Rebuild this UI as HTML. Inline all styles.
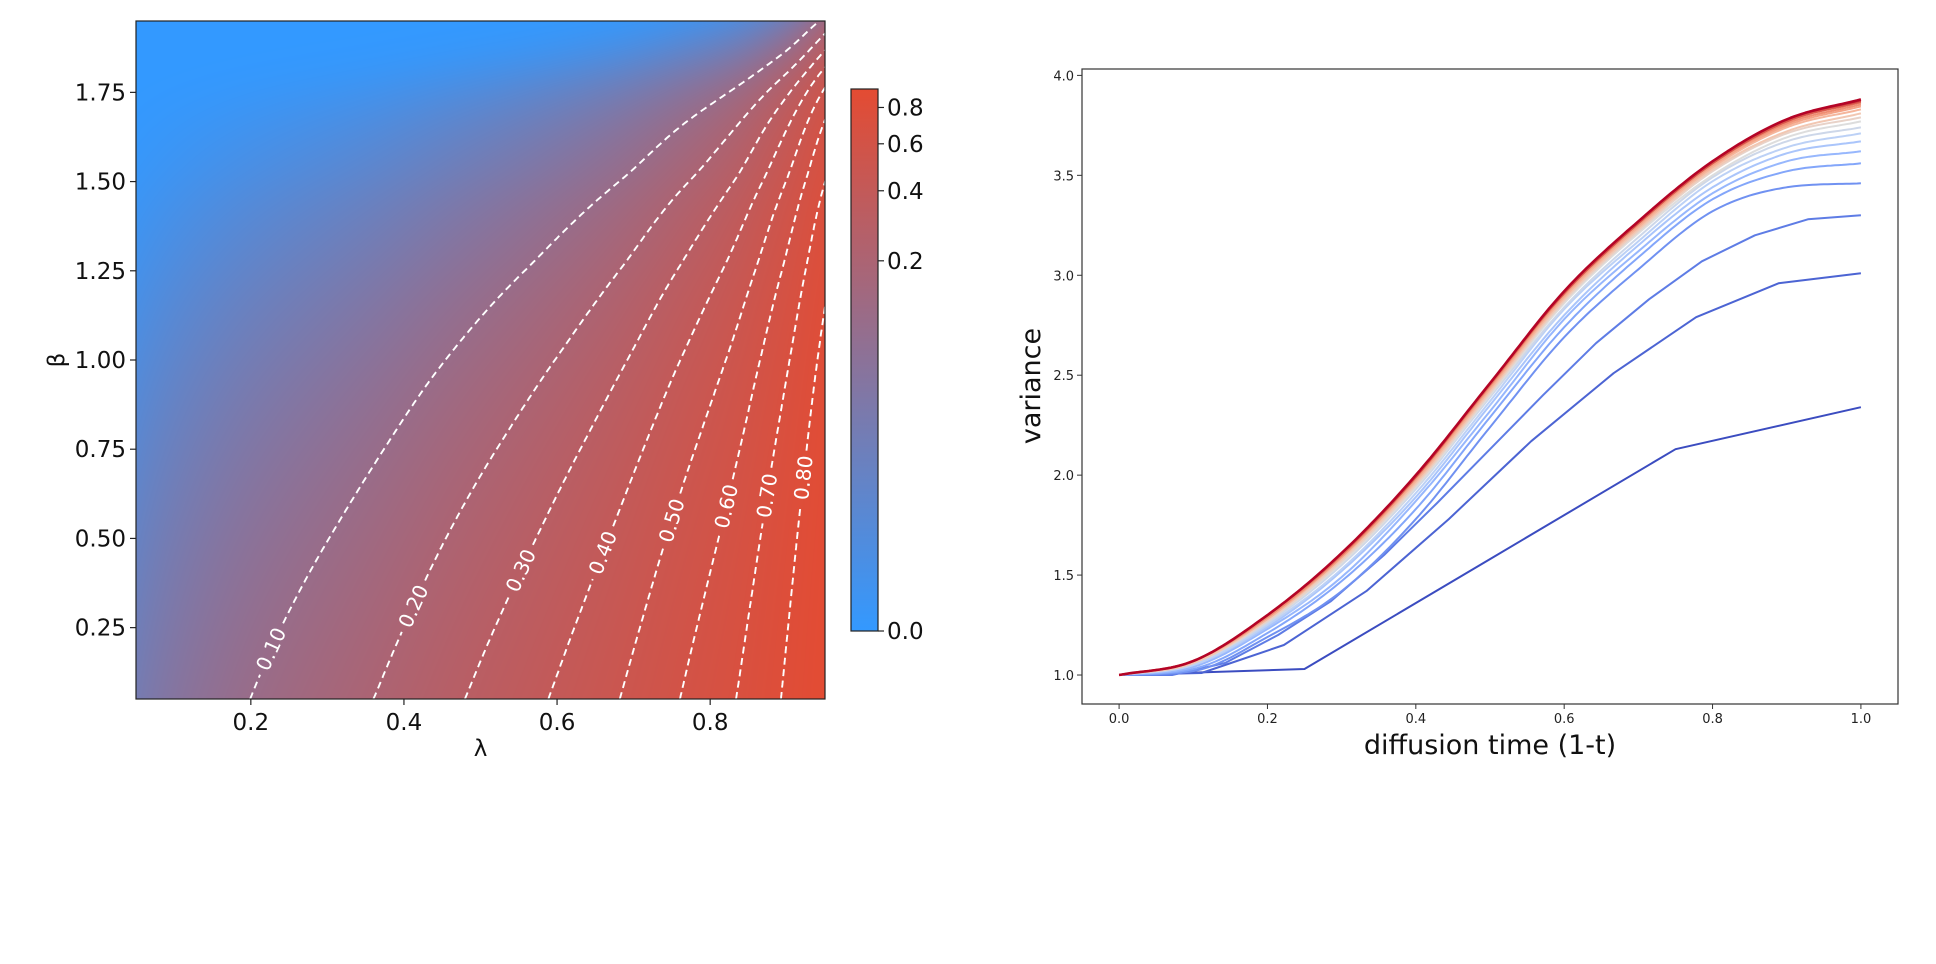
<!DOCTYPE html>
<html><head><meta charset="utf-8">
<style>
html,body{margin:0;padding:0;background:#fff;}
#wrap{position:relative;width:1936px;height:964px;overflow:hidden;font-family:"DejaVu Sans","Liberation Sans",sans-serif;}
#heat{position:absolute;left:136px;top:21px;}
svg{position:absolute;left:0;top:0;}
</style></head>
<body>
<div id="wrap">
<canvas id="heat" width="689" height="678"></canvas>
<svg id="svg" width="1936" height="964"></svg>
</div>
<script>
// ---- heatmap data ----
const lambdaKnots = [0, 0.05, 0.19, 0.35, 0.47, 0.58, 0.675, 0.755, 0.83, 0.89, 0.95, 1.0];
const baseValues  = [0, 0.02, 0.10, 0.20, 0.30, 0.40, 0.50, 0.60, 0.70, 0.80, 0.90, 0.95];
const betaKnots   = [0, 0.25, 0.5, 0.75, 1.0, 1.25, 1.5, 1.75, 1.9, 2.0];
const betaExponent= [1, 1.125, 1.288, 1.512, 1.84, 2.37, 3.39, 6.23, 13.9, 28];
const contourLevels = [0.1,0.2,0.3,0.4,0.5,0.6,0.7,0.8,0.9];
const contourLabels = ["0.10","0.20","0.30","0.40","0.50","0.60","0.70","0.80",""];
const labelBeta = [0.19,0.31,0.41,0.46,0.55,0.59,0.62,0.67,0];
const lambdaTicks = [0.2,0.4,0.6,0.8];
const betaTicks = [0.25,0.5,0.75,1.0,1.25,1.5,1.75];
const cbarTicks = [0.0,0.2,0.4,0.6,0.8];
const cbarMax = 0.919, cbarGamma = 0.25;
// ---- line chart data ----
const curveX = [
 [0,0.25,0.5,0.75,1],
 [0,1/9,2/9,3/9,4/9,5/9,6/9,7/9,8/9,1],
 [0,1/14,2/14,3/14,4/14,5/14,6/14,7/14,8/14,9/14,10/14,11/14,12/14,13/14,1]
];
const gridX = [0,0.1,0.2,0.3,0.4,0.5,0.6,0.7,0.8,0.9,1.0];
const curveY = [
 [1,1.03,1.58,2.13,2.34],
 [1,1.01,1.15,1.42,1.78,2.17,2.51,2.79,2.96,3.01],
 [1,1.0,1.06,1.2,1.37,1.6,1.86,2.13,2.40,2.66,2.88,3.07,3.2,3.28,3.30],
 [1,1.02,1.19,1.42,1.78,2.24,2.69,3.03,3.32,3.44,3.46],
 [1,1.03,1.21,1.47,1.83,2.29,2.74,3.09,3.38,3.52,3.56],
 [1,1.04,1.23,1.49,1.87,2.32,2.78,3.12,3.41,3.57,3.62],
 [1,1.05,1.24,1.52,1.89,2.35,2.80,3.15,3.44,3.61,3.67],
 [1,1.05,1.25,1.53,1.91,2.37,2.83,3.17,3.47,3.64,3.71],
 [1,1.06,1.26,1.55,1.93,2.39,2.84,3.19,3.49,3.67,3.74],
 [1,1.06,1.27,1.56,1.94,2.40,2.86,3.21,3.50,3.69,3.77],
 [1,1.06,1.27,1.57,1.95,2.41,2.87,3.22,3.52,3.71,3.79],
 [1,1.06,1.28,1.58,1.96,2.42,2.88,3.23,3.53,3.72,3.81],
 [1,1.07,1.28,1.59,1.97,2.43,2.89,3.24,3.54,3.74,3.83],
 [1,1.07,1.29,1.59,1.98,2.44,2.90,3.25,3.55,3.75,3.845],
 [1,1.07,1.29,1.60,1.99,2.45,2.91,3.26,3.56,3.76,3.855],
 [1,1.07,1.30,1.60,1.99,2.45,2.91,3.26,3.56,3.77,3.865],
 [1,1.07,1.30,1.61,1.99,2.46,2.91,3.26,3.56,3.77,3.87],
 [1,1.07,1.30,1.61,2.0,2.46,2.92,3.27,3.57,3.78,3.875],
 [1,1.07,1.30,1.61,2.0,2.46,2.92,3.27,3.57,3.78,3.88]
];
const xTicksR = [0.0,0.2,0.4,0.6,0.8,1.0];
const yTicksR = [1.0,1.5,2.0,2.5,3.0,3.5,4.0];

const NS="http://www.w3.org/2000/svg";
const svg=document.getElementById('svg');
function mk(tag,attrs,parent){const e=document.createElementNS(NS,tag);for(const k in attrs)e.setAttribute(k,attrs[k]);(parent||svg).appendChild(e);return e;}

// monotone cubic interpolation
function monoSpline(xs,ys){
 const n=xs.length,d=[],m=new Array(n);
 for(let i=0;i<n-1;i++)d.push((ys[i+1]-ys[i])/(xs[i+1]-xs[i]));
 m[0]=d[0];m[n-1]=d[n-2];
 for(let i=1;i<n-1;i++){m[i]=(d[i-1]*d[i]<=0)?0:(d[i-1]+d[i])/2;}
 for(let i=0;i<n-1;i++){if(d[i]===0){m[i]=m[i+1]=0;continue;}const a=m[i]/d[i],b=m[i+1]/d[i],s=a*a+b*b;if(s>9){const t=3/Math.sqrt(s);m[i]=t*a*d[i];m[i+1]=t*b*d[i];}}
 return function(x){
  if(x<=xs[0])return ys[0];if(x>=xs[n-1])return ys[n-1];
  let i=0;while(x>xs[i+1])i++;
  const h=xs[i+1]-xs[i],t=(x-xs[i])/h,t2=t*t,t3=t2*t;
  return (2*t3-3*t2+1)*ys[i]+(t3-2*t2+t)*h*m[i]+(-2*t3+3*t2)*ys[i+1]+(t3-t2)*h*m[i+1];
 };
}

// ---- left axes ----
const LX0=136,LX1=825,LY0=21,LY1=699;
const xL=l=>LX0+(l-0.05)/0.9*(LX1-LX0);
const yL=b=>LY1-(b-0.05)/1.9*(LY1-LY0);
const gAt=monoSpline(lambdaKnots,baseValues);
const logE=monoSpline(betaKnots,betaExponent.map(Math.log));
const expAt=b=>Math.exp(logE(b));
function gInv(v){let lo=0,hi=1;for(let k=0;k<40;k++){const mid=(lo+hi)/2;if(gAt(mid)<v)lo=mid;else hi=mid;}return (lo+hi)/2;}
const C0=[51,153,255],C1=[228,75,50];
function col(t){t=Math.max(0,Math.min(1,t));return [0,1,2].map(i=>Math.round(C0[i]+(C1[i]-C0[i])*t));}

// heatmap
(function(){
 const cv=document.getElementById('heat');const ctx=cv.getContext('2d');
 const W=cv.width,H=cv.height;const img=ctx.createImageData(W,H);
 const gcol=[],erow=[];
 for(let x=0;x<W;x++)gcol.push(gAt(0.05+(x+0.5)/W*0.9));
 for(let y=0;y<H;y++)erow.push(expAt(1.95-(y+0.5)/H*1.9));
 for(let y=0;y<H;y++)for(let x=0;x<W;x++){
  const f=Math.pow(gcol[x],erow[y]);const c=col(Math.pow(f/cbarMax,cbarGamma));
  const o=(y*W+x)*4;img.data[o]=c[0];img.data[o+1]=c[1];img.data[o+2]=c[2];img.data[o+3]=255;}
 ctx.putImageData(img,0,0);
})();

// contours
const clip=mk('clipPath',{id:'lclip'});mk('rect',{x:LX0,y:LY0,width:LX1-LX0,height:LY1-LY0},clip);
const cg=mk('g',{'clip-path':'url(#lclip)'});

contourLevels.forEach((L,i)=>{
 const pts=[];
 for(let b=0.05;b<=1.951;b+=0.004){const l=gInv(Math.pow(L,1/expAt(b)));pts.push([xL(l),yL(b),l]);if(l>0.96)break;}
 let lab=null,ang=0;
 if(contourLabels[i]){
  const b=labelBeta[i];const l=gInv(Math.pow(L,1/expAt(b)));const b2=b+0.02;const l2=gInv(Math.pow(L,1/expAt(b2)));
  lab=[xL(l),yL(b)];ang=Math.atan2(yL(b2)-yL(b),xL(l2)-xL(l))*180/Math.PI;
 }
 let segs=[[]];
 pts.forEach(p=>{if(lab&&Math.hypot(p[0]-lab[0],p[1]-lab[1])<27){if(segs[segs.length-1].length)segs.push([]);}else segs[segs.length-1].push(p);});
 segs.filter(s=>s.length>1).forEach(s=>{
  const p=mk('path',{d:'M'+s.map(q=>q[0].toFixed(1)+','+q[1].toFixed(1)).join('L'),fill:'none',stroke:'#fff','stroke-width':1.9,'stroke-dasharray':'7,4.5'},cg);
  
 });
 if(lab){
  const t=mk('text',{x:lab[0],y:lab[1],fill:'#fff','font-size':20,'text-anchor':'middle','dominant-baseline':'central',transform:`rotate(${ang} ${lab[0]} ${lab[1]})`});
  t.textContent=contourLabels[i];
 }
});
const lf=mk('rect',{x:LX0,y:LY0,width:LX1-LX0,height:LY1-LY0,fill:'none',stroke:'#222','stroke-width':1.2});

lambdaTicks.forEach(v=>{const x=xL(v);mk('line',{x1:x,x2:x,y1:LY1,y2:LY1+6,stroke:'#222','stroke-width':1.2});
 const t=mk('text',{x:x,y:LY1+31,'font-size':23,'text-anchor':'middle',fill:'#111'});t.textContent=v.toFixed(1);
 });
betaTicks.forEach(v=>{const y=yL(v);mk('line',{x1:LX0-6,x2:LX0,y1:y,y2:y,stroke:'#222','stroke-width':1.2});
 const t=mk('text',{x:LX0-10,y:y+8,'font-size':23,'text-anchor':'end',fill:'#111'});t.textContent=v.toFixed(2);
 });
let t=mk('text',{x:(LX0+LX1)/2,y:756,'font-size':23,'text-anchor':'middle',fill:'#111'});t.textContent='λ';

t=mk('text',{x:64,y:360,'font-size':23,'text-anchor':'middle',fill:'#111',transform:'rotate(-90 64 360)'});t.textContent='β';


// colorbar
const CB={x0:851,x1:878,y0:89,y1:631};
const grad=mk('linearGradient',{id:'cbg',x1:0,y1:1,x2:0,y2:0});
mk('stop',{offset:0,'stop-color':`rgb(${C0})`},grad);mk('stop',{offset:1,'stop-color':`rgb(${C1})`},grad);
const cb=mk('rect',{x:CB.x0,y:CB.y0,width:CB.x1-CB.x0,height:CB.y1-CB.y0,fill:'url(#cbg)',stroke:'#222','stroke-width':1.2});

cbarTicks.forEach(v=>{const y=CB.y1-Math.pow(v/cbarMax,cbarGamma)*(CB.y1-CB.y0);
 mk('line',{x1:CB.x1,x2:CB.x1+6,y1:y,y2:y,stroke:'#222','stroke-width':1.2});
 const tt=mk('text',{x:CB.x1+9,y:y+8,'font-size':23,fill:'#111'});tt.textContent=v.toFixed(1);
 });

// ---- right axes ----
const RX0=1082,RX1=1898,RY0=69,RY1=704;
const xR=v=>RX0+(v+0.05)/1.1*(RX1-RX0);
const yR=v=>RY1-(v-0.855)/(4.032-0.855)*(RY1-RY0);
const cw=[[0,[59,76,192]],[0.125,[98,130,234]],[0.25,[141,176,254]],[0.375,[184,208,249]],[0.5,[221,221,221]],[0.625,[245,196,173]],[0.75,[244,154,123]],[0.875,[222,96,77]],[1,[180,4,38]]];
function coolwarm(t){for(let i=1;i<cw.length;i++){if(t<=cw[i][0]){const a=cw[i-1],b=cw[i],u=(t-a[0])/(b[0]-a[0]);return 'rgb('+[0,1,2].map(k=>Math.round(a[1][k]+u*(b[1][k]-a[1][k]))).join(',')+')';}}return 'rgb(180,4,38)';}
const N=curveY.length;
curveY.forEach((ys,i)=>{
 const xs=i<curveX.length?curveX[i]:gridX;
 let P;
 if(i<curveX.length){P=ys.map((y,k)=>[xR(xs[k]),yR(y)]);}
 else{const sp=monoSpline(xs,ys);P=[];for(let k=0;k<=200;k++){const x=k/200;P.push([xR(x),yR(sp(x))]);}}
 const d='M'+P.map(p=>p[0].toFixed(1)+','+p[1].toFixed(1)).join('L');
 const p=mk('path',{d:d,fill:'none',stroke:coolwarm(i/(N-1)),'stroke-width':i==N-1?2.6:2,'stroke-linejoin':'round'});
 
});
const rf=mk('rect',{x:RX0,y:RY0,width:RX1-RX0,height:RY1-RY0,fill:'none',stroke:'#333','stroke-width':1.2});

xTicksR.forEach(v=>{const x=xR(v);mk('line',{x1:x,x2:x,y1:RY1,y2:RY1+5,stroke:'#333','stroke-width':1});
 const tt=mk('text',{x:x,y:RY1+19,'font-size':13,'text-anchor':'middle',fill:'#222'});tt.textContent=v.toFixed(1);
 });
yTicksR.forEach(v=>{const y=yR(v);mk('line',{x1:RX0-5,x2:RX0,y1:y,y2:y,stroke:'#333','stroke-width':1});
 const tt=mk('text',{x:RX0-8,y:y+5,'font-size':13,'text-anchor':'end',fill:'#222'});tt.textContent=v.toFixed(1);
 });
t=mk('text',{x:(RX0+RX1)/2,y:754,'font-size':27,'text-anchor':'middle',fill:'#111'});t.textContent='diffusion time (1-t)';

t=mk('text',{x:1040,y:386,'font-size':27,'text-anchor':'middle',fill:'#111',transform:'rotate(-90 1040 386)'});t.textContent='variance';

</script>
</body></html>
